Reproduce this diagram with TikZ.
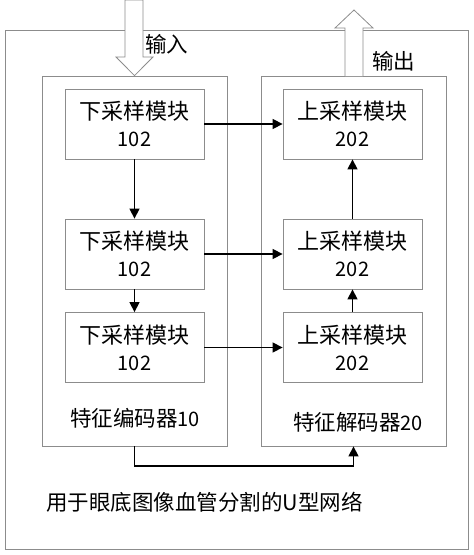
\documentclass[tikz,border=0pt]{standalone}
\usepackage{fontspec}
\setmainfont{Noto Sans CJK SC}
\usetikzlibrary{arrows.meta}
\newcommand{\numtxt}[1]{{\fontsize{20}{26}\selectfont #1}}
\begin{document}
\begin{tikzpicture}[x=1pt,y=-1pt,
  frame/.style={draw=black!45, line width=0.8pt},
  mod/.style={draw=black!45, line width=0.8pt, fill=white, minimum width=139pt, minimum height=70pt, inner sep=0pt, align=center, font=\fontsize{22}{27}\selectfont},
  lbl/.style={font=\fontsize{21.5}{24}\selectfont, inner sep=0pt},
  arr/.style={draw=black, line width=1.4pt, -{Triangle[length=10pt,width=10pt]}},
  blk/.style={draw=black!45, line width=0.8pt, fill=white}]
\useasboundingbox (0,0) rectangle (474,555);
% outer frame
\node[frame, minimum width=463pt, minimum height=519pt, inner sep=0pt] (outer) at (236.5,289.5) {};
% encoder / decoder frames
\node[frame, minimum width=185pt, minimum height=370pt, inner sep=0pt] (enc) at (134.5,261) {};
\node[frame, minimum width=185pt, minimum height=370pt, inner sep=0pt] (dec) at (353.5,261) {};
% modules
\node[mod] (d1) at (134.5,124) {下采样模块\\\numtxt{102}};
\node[mod] (d2) at (134.5,254) {下采样模块\\\numtxt{102}};
\node[mod] (d3) at (134.5,347.5) {下采样模块\\\numtxt{102}};
\node[mod] (u1) at (352.5,124) {上采样模块\\\numtxt{202}};
\node[mod] (u2) at (352.5,254) {上采样模块\\\numtxt{202}};
\node[mod] (u3) at (352.5,347.5) {上采样模块\\\numtxt{202}};
% labels
\node[lbl] (encl) at (135,418) {特征编码器\numtxt{10}};
\node[lbl] (decl) at (358,422) {特征解码器\numtxt{20}};
\node[lbl, anchor=west] (title) at (46,502) {用于眼底图像血管分割的U型网络};
\node[lbl, anchor=west] (inl) at (145,44) {输入};
\node[lbl, anchor=west] (outl) at (372,61) {输出};
% arrows
\draw[arr] (d1) -- (u1);
\draw[arr] (d2) -- (u2);
\draw[arr] (d3) -- (u3);
\draw[arr] (d1) -- (d2);
\draw[arr] (d2) -- (d3);
\draw[arr] (u2) -- (u1);
\draw[arr] (u3) -- (u2);
\coordinate (b1) at (134.5,466);
\coordinate (b2) at (353.5,466);
\draw[arr] (enc.south) -- (b1) -- (b2) -- (dec.south);
% block arrows
\coordinate (inTip) at (enc.north);
\draw[blk] (125,0) -- (143,0) -- (143,57) -- (153,57) -- (inTip) -- (116,57) -- (125,57) -- cycle;
\draw[blk] (345,76) -- (345,28) -- (335,28) -- (354,10) -- (373,28) -- (363,28) -- (363,76);
\end{tikzpicture}
\end{document}
